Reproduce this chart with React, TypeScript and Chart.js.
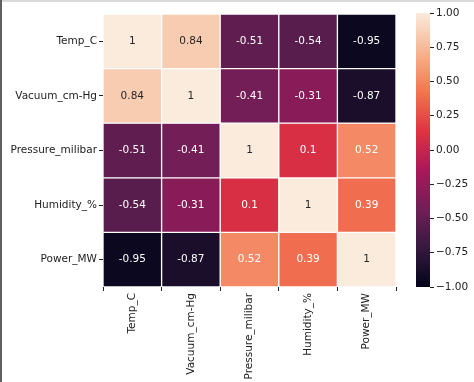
import React, { useEffect, useRef } from "react";
import { Chart, registerables } from "chart.js";
Chart.register(...registerables);

const rowLabels = ["Temp_C", "Vacuum_cm-Hg", "Pressure_milibar", "Humidity_%", "Power_MW"];
const colLabels = ["Temp_C", "Vacuum_cm-Hg", "Pressure_milibar", "Humidity_%", "Power_MW"];
const corrTemp = [1, 0.84, -0.51, -0.54, -0.95];
const corrVacuum = [0.84, 1, -0.41, -0.31, -0.87];
const corrPressure = [-0.51, -0.41, 1, 0.1, 0.52];
const corrHumidity = [-0.54, -0.31, 0.1, 1, 0.39];
const corrPower = [-0.95, -0.87, 0.52, 0.39, 1];
const matrix = [corrTemp, corrVacuum, corrPressure, corrHumidity, corrPower];
const cbTicks = [-1, -0.75, -0.5, -0.25, 0, 0.25, 0.5, 0.75, 1];
const vmin = -1;
const vmax = 1;

const rocketStops: [number, number[]][] = [
  [0.0, [3, 5, 26]],
  [0.143, [53, 25, 62]],
  [0.286, [112, 31, 87]],
  [0.429, [173, 23, 89]],
  [0.571, [225, 51, 66]],
  [0.714, [243, 118, 81]],
  [0.857, [246, 180, 143]],
  [1.0, [250, 235, 221]],
];

function rocketRGB(t: number): number[] {
  t = Math.max(0, Math.min(1, t));
  for (let i = 1; i < rocketStops.length; i++) {
    const [p1, c1] = rocketStops[i];
    const [p0, c0] = rocketStops[i - 1];
    if (t <= p1) {
      const f = (t - p0) / (p1 - p0);
      return c0.map((c, k) => Math.round(c + (c1[k] - c) * f));
    }
  }
  return rocketStops[rocketStops.length - 1][1];
}
const colorFor = (v: number) => {
  const [r, g, b] = rocketRGB((v - vmin) / (vmax - vmin));
  return `rgb(${r},${g},${b})`;
};
const lum = (v: number) => {
  const rgb = rocketRGB((v - vmin) / (vmax - vmin)).map((c) => {
    const s = c / 255;
    return s <= 0.03928 ? s / 12.92 : Math.pow((s + 0.055) / 1.055, 2.4);
  });
  return 0.2126 * rgb[0] + 0.7152 * rgb[1] + 0.0722 * rgb[2];
};

const FONT = "'DejaVu Sans', sans-serif";
const TXT = "#222222";
const FS = 10.5;

const annotatePlugin = {
  id: "annotate",
  afterDatasetsDraw(chart: any) {
    const ctx = chart.ctx;
    ctx.save();
    ctx.font = `${FS}px ${FONT}`;
    ctx.textAlign = "center";
    ctx.textBaseline = "middle";
    chart.data.datasets.forEach((ds: any, i: number) => {
      const meta = chart.getDatasetMeta(i);
      meta.data.forEach((el: any, j: number) => {
        const v = matrix[i][j];
        const cx = el.x;
        const cy = (el.y + el.base) / 2;
        ctx.fillStyle = lum(v) > 0.408 ? "#262626" : "#ffffff";
        ctx.fillText(String(v), cx, cy);
      });
    });
    ctx.restore();
  },
};

export default function App() {
  const heatRef = useRef<HTMLCanvasElement>(null);
  const cbRef = useRef<HTMLCanvasElement>(null);

  useEffect(() => {
    const heat = new Chart(heatRef.current!, {
      type: "bar",
      data: {
        labels: colLabels,
        datasets: matrix.map((row, i) => ({
          label: rowLabels[i],
          data: row.map(() => [i, i + 1]),
          backgroundColor: row.map((v) => colorFor(v)),
          borderColor: "#ffffff",
          borderWidth: 1,
          borderSkipped: false,
          barPercentage: 1,
          categoryPercentage: 1,
          grouped: false,
        })) as any,
      },
      options: {
        animation: false,
        responsive: false,
        maintainAspectRatio: false,
        layout: { padding: { left: 0, top: 14, right: 14, bottom: 0 } },
        plugins: { legend: { display: false }, tooltip: { enabled: false } },
        scales: {
          x: {
            type: "category",
            grid: { display: true, drawOnChartArea: false, drawTicks: true, tickLength: 4, color: TXT },
            border: { display: false },
            ticks: { color: TXT, font: { family: FONT, size: FS }, maxRotation: 90, minRotation: 90, padding: 2, autoSkip: false },
            afterFit: (s: any) => { s.height = 95; },
          },
          y: {
            type: "linear",
            min: 0,
            max: rowLabels.length,
            reverse: true,
            grid: { display: true, drawOnChartArea: false, drawTicks: true, tickLength: 4, color: TXT },
            border: { display: false },
            afterBuildTicks: (s: any) => { s.ticks = rowLabels.map((_, i) => ({ value: i + 0.5 })); },
            ticks: {
              color: TXT,
              font: { family: FONT, size: FS },
              padding: 2,
              autoSkip: false,
              callback: (v: any) => rowLabels[Math.floor(Number(v))] ?? "",
            },
            afterFit: (s: any) => { s.width = 103; },
          },
        },
      } as any,
      plugins: [annotatePlugin],
    });

    const cb = new Chart(cbRef.current!, {
      type: "bar",
      data: {
        labels: ["cb"],
        datasets: [
          {
            data: [[vmin, vmax]],
            backgroundColor: (context: any) => {
              const { chart } = context;
              const { ctx, chartArea } = chart;
              if (!chartArea) return "#000";
              const g = ctx.createLinearGradient(0, chartArea.bottom, 0, chartArea.top);
              rocketStops.forEach(([p, c]) => g.addColorStop(p, `rgb(${c[0]},${c[1]},${c[2]})`));
              return g;
            },
            borderWidth: 0,
            barPercentage: 1,
            categoryPercentage: 1,
          } as any,
        ],
      },
      options: {
        animation: false,
        responsive: false,
        maintainAspectRatio: false,
        layout: { padding: { left: 16, top: 13, right: 0, bottom: 95 } },
        plugins: { legend: { display: false }, tooltip: { enabled: false } },
        scales: {
          x: { display: false },
          y: {
            type: "linear",
            position: "right",
            min: vmin,
            max: vmax,
            grid: { display: true, drawOnChartArea: false, drawTicks: true, tickLength: 4, color: TXT },
            border: { display: false },
            afterBuildTicks: (s: any) => { s.ticks = cbTicks.map((v) => ({ value: v })); },
            ticks: {
              color: TXT,
              font: { family: FONT, size: FS },
              padding: 2,
              callback: (v: any) => {
                const n = Number(v);
                return (n < 0 ? "\u2212" : "") + Math.abs(n).toFixed(2);
              },
            },
            afterFit: (s: any) => { s.width = 44; },
          },
        },
      } as any,
    });

    return () => {
      heat.destroy();
      cb.destroy();
    };
  }, []);

  return (
    <div style={{ position: "fixed", left: 0, top: 0, width: 474, height: 382, background: "#ffffff", overflow: "hidden" }}>
      <canvas ref={heatRef} width={410} height={382} style={{ position: "absolute", left: 0, top: 0, width: 410, height: 382 }} />
      <canvas ref={cbRef} width={74} height={382} style={{ position: "absolute", left: 400, top: 0, width: 74, height: 382 }} />
      <div style={{ position: "absolute", left: 0, top: 0, width: 474, height: 2, background: "#d9d9d9" }} />
      <div style={{ position: "absolute", left: 0, top: 0, width: 2, height: 382, background: "#5f5f5f" }} />
    </div>
  );
}
